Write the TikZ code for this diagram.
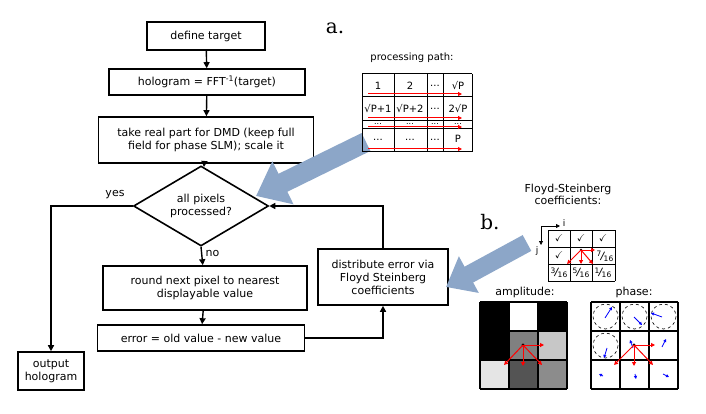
\documentclass[tikz,border=0pt]{standalone}
\usepackage{amssymb}
\usepackage{fontspec}
\setmainfont{DejaVu Sans}
\newfontfamily\serfont{DejaVu Serif}
\usetikzlibrary{arrows.meta,shapes.geometric}
\definecolor{bigarrow}{RGB}{140,166,200}
\newcommand{\myfr}[1]{\raisebox{2.5pt}{#1}\kern-1.5pt\rotatebox{-10}{\fontsize{11}{11}\selectfont/}\kern-1.5pt\raisebox{-2pt}{16}}
\begin{document}
\begin{tikzpicture}[x=1pt,y=-1pt,
 box/.style={draw,line width=1.6pt,align=center,font=\fontsize{11}{13}\selectfont,inner sep=2pt},
 flow/.style={line width=1.4pt,-{Triangle[length=6pt,width=6pt]}},
 tab/.style={line width=1pt},
 red/.style={draw=red,line width=1pt,-{Triangle[length=4pt,width=4pt]}},
 blu/.style={draw=blue,line width=0.8pt,-{Triangle[length=3pt,width=3pt]}},
 big/.style={draw=bigarrow,line width=20pt,-{Triangle[length=30pt,width=46pt]}},
 frac/.style={font=\fontsize{7.5}{8}\selectfont,inner sep=0pt},
 small/.style={font=\fontsize{10}{11}\selectfont}]
\useasboundingbox (0,0) rectangle (706,414);
% flowchart
\node[box,minimum width=118pt,minimum height=28pt] (def) at (206,36) {define target};
\node[box,minimum width=196pt,minimum height=26pt] (fft) at (207,82) {hologram = FFT\textsuperscript{-1}(target)};
\node[box,minimum width=215pt,minimum height=46pt] (take) at (206,140) {take real part for DMD (keep full\\field for phase SLM); scale it};
\node[draw,line width=1.6pt,diamond,aspect=1.7,inner sep=0pt,minimum width=135pt,minimum height=80pt,align=center,font=\fontsize{11}{13}\selectfont] (dia) at (201,206) {all pixels\\processed?};
\node[box,minimum width=204pt,minimum height=44pt] (round) at (205,288) {round next pixel to nearest\\displayable value};
\node[box,minimum width=207pt,minimum height=26pt] (err) at (201,338) {error = old value - new value};
\node[box,minimum width=66pt,minimum height=38pt] (out) at (51,371) {output\\hologram};
\node[box,minimum width=130pt,minimum height=56pt] (dist) at (383,277) {distribute error via\\Floyd Steinberg\\coefficients};
\draw[flow] (def) -- (fft);
\draw[flow] (fft) -- (take);
\draw[flow] (take) -- (dia);
\draw[flow] (dia.south) -- node[right,pos=0.35,font=\fontsize{11}{13}\selectfont]{no} (round);
\draw[flow] (round) -- (err);
\draw[flow] (err.east) -| (dist.south);
\draw[flow] (dist.north) |- (dia.east);
\draw[flow] (dia.west) -| (out.north);
\node[font=\fontsize{11}{13}\selectfont] (yes) at (115,195) {yes};
% big arrows
\coordinate (b1s) at (366,142); \coordinate (b1e) at (256,196);
\coordinate (b2s) at (527,243); \coordinate (b2e) at (446,287);
\draw[big] (b1s) -- (b1e);
\draw[big,line width=18pt,-{Triangle[length=26pt,width=40pt]}] (b2s) -- (b2e);
% a.
\node[font=\serfont\fontsize{20}{22}\selectfont] (la) at (335,28) {a.};
\node[small] (pp) at (412,58) {processing path:};
\foreach \x in {362,394,427,443,472} \draw[tab] (\x,74) -- (\x,152);
\foreach \y in {74,97,121,129,152} \draw[tab] (362,\y) -- (472,\y);
\node[small] (t1) at (378,86) {1};
\node[small] (t2) at (410,86) {2};
\node[small] (t3) at (435,86) {...};
\node[small] (t4) at (458,86) {√P};
\node[small] (t5) at (378,109) {√P+1};
\node[small] (t6) at (410,109) {√P+2};
\node[small] (t7) at (435,109) {...};
\node[small] (t8) at (458,109) {2√P};
\foreach \x/\n in {378/a,410/b,435/c,458/d} \node[font=\fontsize{8}{8}\selectfont] (u\n) at (\x,124) {...};
\foreach \x/\n in {378/a,410/b,435/c} \node[small] (v\n) at (\x,140) {...};
\node[small] (t9) at (458,139) {P};
\foreach \y/\n in {94/a,118/b,127/c,149/d}{\coordinate (rs\n) at (368,\y); \coordinate (re\n) at (462,\y); \draw[red] (rs\n) -- (re\n);}
% b.
\node[font=\serfont\fontsize{20}{22}\selectfont] (lb) at (490,222) {b.};
\node[font=\fontsize{11}{12}\selectfont,align=center] (fs) at (568,194) {Floyd-Steinberg\\coefficients:};
\coordinate (ax) at (541,226); \coordinate (axi) at (560,226); \coordinate (axj) at (541,245);
\draw[line width=0.8pt,-{Triangle[length=4pt,width=4pt]}] (ax) -- (axi);
\draw[line width=0.8pt,-{Triangle[length=4pt,width=4pt]}] (ax) -- (axj);
\node[font=\fontsize{9}{9}\selectfont] (li) at (564,223) {i};
\node[font=\fontsize{9}{9}\selectfont] (lj) at (537,251) {j};
\foreach \x in {548,570,592,615} \draw[tab] (\x,230) -- (\x,281);
\foreach \y in {230,247,264,281} \draw[tab] (548,\y) -- (615,\y);
\foreach \p/\n in {{559,238.5}/a,{581,238.5}/b,{603,238.5}/c,{559,255.5}/d} \node[small] (ck\n) at (\p) {$\checkmark$};
\node[frac] (f7) at (605,256.5) {\myfr{7}};
\node[frac] (f3) at (559,273) {\myfr{3}};
\node[frac] (f5) at (581,273) {\myfr{5}};
\node[frac] (f1) at (603,273) {\myfr{1}};
\coordinate (fc) at (581,250);
\fill (fc) circle (1.3);
\draw[red] (fc) -- (595,250); \draw[red] (fc) -- (567,264); \draw[red] (fc) -- (581,264); \draw[red] (fc) -- (593,264);
% amplitude
\node[font=\fontsize{11}{13}\selectfont] (amp) at (525,292) {amplitude:};
\foreach \c/\g [count=\i from 0] in {0/0,1/100,2/0,0/0,1/50,2/78,0/90,1/33,2/55}{
 \pgfmathtruncatemacro{\r}{int(\i/3)}
 \pgfmathtruncatemacro{\k}{100-\g}
 \fill[black!\k] (480+\c*29,302+\r*29) rectangle ++(29,29);}
\foreach \x in {480,509,538,567} \draw[line width=1.2pt] (\x,302) -- (\x,389);
\foreach \y in {302,331,360,389} \draw[line width=1.2pt] (480,\y) -- (567,\y);
\coordinate (ac) at (523,345);
\fill (ac) circle (1.6);
\draw[red] (ac) -- (544,345); \draw[red] (ac) -- (504,365); \draw[red] (ac) -- (523,366); \draw[red] (ac) -- (542,365);
% phase
\node[font=\fontsize{11}{13}\selectfont] (ph) at (634,292) {phase:};
\foreach \x in {591,620,649,678} \draw[line width=1.2pt] (\x,302) -- (\x,389);
\foreach \y in {302,331,360,389} \draw[line width=1.2pt] (591,\y) -- (678,\y);
\foreach \p/\n in {{605.5,316.5}/a,{634.5,316.5}/b,{663.5,316.5}/c,{605.5,345.5}/d} \draw[dashed,line width=0.6pt] (\p) circle (12.5);
\draw[blu] (605,318) -- (612,307);
\draw[blu] (634,317) -- (642,325);
\draw[blu] (662,317) -- (651,313);
\draw[blu] (607,348) -- (604,358);
\draw[blu] (633,348) -- (630,340);
\draw[blu] (662,347) -- (666,339);
\draw[blu] (603,376) -- (599,374);
\draw[blu] (635,374) -- (636,379);
\draw[blu] (663,374) -- (669,377);
\coordinate (pc) at (634,345);
\fill (pc) circle (1.6);
\draw[red] (pc) -- (655,345); \draw[red] (pc) -- (614,365); \draw[red] (pc) -- (634,366); \draw[red] (pc) -- (653,365);
\end{tikzpicture}
\end{document}
